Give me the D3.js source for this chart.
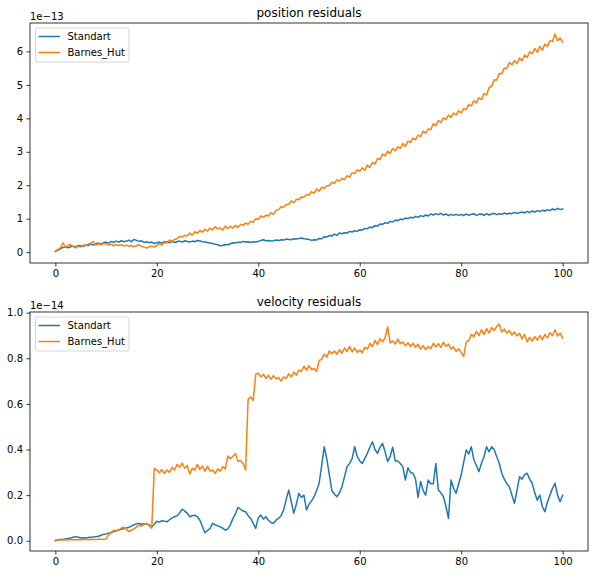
<!DOCTYPE html>
<html>
<head>
<meta charset="utf-8">
<script src="https://cdn.jsdelivr.net/npm/d3@7"></script>
<style>
  html, body { margin: 0; padding: 0; background: #ffffff; }
  svg { display: block; font-family: "DejaVu Sans", sans-serif; }
</style>
</head>
<body>
<div id="chart"></div>
<script>
// ---- data (time step 0.5, t = 0 .. 100) ----
const seriesNames = ["Standart", "Barnes_Hut"];
const xTicks = [0, 20, 40, 60, 80, 100];
const posTicks = [0, 1, 2, 3, 4, 5, 6];
const velTicks = [0.0, 0.2, 0.4, 0.6, 0.8, 1.0];
const titles = ["position residuals", "velocity residuals"];
const offsetLabels = ["1e\u221213", "1e\u221214"];

// position residuals (units of 1e-13)
const posStandart = [
  0.02,0.06,0.10,0.14,0.15,0.13,0.16,0.18,0.15,0.20,0.19,0.17,0.22,0.20,0.24,0.21,0.25,0.27,0.24,0.28,
  0.30,0.27,0.32,0.29,0.33,0.30,0.34,0.31,0.33,0.36,0.31,0.38,0.35,0.32,0.34,0.29,0.31,0.28,0.30,0.26,
  0.28,0.30,0.27,0.31,0.30,0.28,0.32,0.29,0.31,0.33,0.30,0.34,0.32,0.30,0.33,0.31,0.35,0.33,0.31,0.30,
  0.29,0.27,0.26,0.24,0.22,0.19,0.20,0.23,0.22,0.25,0.28,0.27,0.30,0.29,0.32,0.30,0.31,0.29,0.31,0.30,
  0.32,0.35,0.37,0.34,0.35,0.33,0.34,0.36,0.35,0.37,0.36,0.39,0.38,0.37,0.40,0.39,0.41,0.42,0.40,0.39,
  0.38,0.35,0.37,0.36,0.41,0.40,0.46,0.45,0.50,0.48,0.54,0.50,0.57,0.55,0.58,0.57,0.62,0.60,0.64,0.62,
  0.67,0.66,0.71,0.70,0.75,0.73,0.79,0.78,0.84,0.83,0.88,0.86,0.92,0.90,0.96,0.94,0.99,0.97,1.02,1.00,
  1.04,1.02,1.07,1.04,1.09,1.06,1.11,1.08,1.14,1.11,1.15,1.12,1.16,1.11,1.14,1.09,1.13,1.10,1.13,1.10,
  1.13,1.09,1.14,1.10,1.13,1.15,1.10,1.13,1.14,1.10,1.15,1.11,1.14,1.16,1.12,1.15,1.13,1.17,1.14,1.16,
  1.15,1.19,1.16,1.18,1.20,1.17,1.22,1.18,1.23,1.20,1.24,1.21,1.25,1.23,1.27,1.24,1.29,1.26,1.31,1.27,
  1.29
];
const posBarnesHut = [
  0.03,0.08,0.12,0.28,0.14,0.20,0.23,0.16,0.13,0.18,0.16,0.21,0.19,0.24,0.27,0.32,0.21,0.25,0.22,0.26,
  0.25,0.21,0.24,0.19,0.23,0.20,0.22,0.18,0.21,0.17,0.20,0.16,0.19,0.22,0.17,0.15,0.12,0.16,0.18,0.15,
  0.20,0.26,0.21,0.29,0.28,0.36,0.33,0.38,0.40,0.47,0.45,0.50,0.49,0.57,0.51,0.61,0.56,0.65,0.60,0.68,
  0.63,0.72,0.66,0.76,0.70,0.72,0.66,0.78,0.70,0.77,0.72,0.80,0.74,0.83,0.80,0.87,0.83,0.92,0.89,1.00,
  0.98,1.08,1.04,1.10,1.08,1.18,1.13,1.25,1.27,1.36,1.35,1.42,1.43,1.53,1.48,1.58,1.57,1.65,1.64,1.72,
  1.71,1.81,1.76,1.89,1.82,1.94,1.91,1.98,1.99,2.09,2.06,2.16,2.13,2.20,2.17,2.29,2.24,2.37,2.35,2.46,
  2.42,2.52,2.45,2.60,2.53,2.68,2.63,2.80,2.77,2.93,2.88,3.02,2.95,3.10,3.03,3.15,3.10,3.25,3.16,3.32,
  3.28,3.41,3.36,3.50,3.45,3.62,3.56,3.68,3.66,3.84,3.78,3.93,3.88,4.01,3.96,4.10,4.03,4.16,4.10,4.22,
  4.16,4.29,4.26,4.41,4.37,4.53,4.46,4.62,4.56,4.74,4.70,4.92,4.96,5.15,5.14,5.34,5.33,5.50,5.50,5.67,
  5.60,5.73,5.64,5.80,5.72,5.89,5.82,5.99,5.93,6.09,5.98,6.15,6.04,6.22,6.15,6.32,6.30,6.52,6.32,6.40,
  6.28
];

// velocity residuals (units of 1e-14)
const velStandart = [
  0.000,0.003,0.005,0.006,0.008,0.010,0.012,0.015,0.018,0.016,0.012,0.013,0.012,0.014,0.015,0.016,0.018,0.020,0.024,0.028,
  0.030,0.033,0.035,0.040,0.044,0.047,0.050,0.054,0.056,0.059,0.064,0.070,0.074,0.076,0.072,0.075,0.074,0.069,0.060,0.072,
  0.085,0.082,0.088,0.086,0.083,0.092,0.100,0.105,0.110,0.122,0.139,0.130,0.120,0.105,0.110,0.112,0.105,0.090,0.061,0.035,
  0.045,0.055,0.076,0.070,0.065,0.061,0.055,0.046,0.052,0.070,0.098,0.118,0.146,0.138,0.130,0.127,0.110,0.098,0.076,0.054,
  0.100,0.113,0.095,0.105,0.090,0.080,0.076,0.090,0.098,0.110,0.135,0.180,0.222,0.171,0.120,0.160,0.208,0.190,0.200,0.135,
  0.160,0.175,0.193,0.220,0.252,0.330,0.412,0.360,0.290,0.220,0.205,0.193,0.210,0.237,0.280,0.325,0.339,0.360,0.412,0.370,
  0.350,0.339,0.360,0.383,0.410,0.434,0.400,0.383,0.410,0.427,0.390,0.347,0.370,0.410,0.350,0.350,0.339,0.325,0.266,0.320,
  0.300,0.296,0.270,0.190,0.260,0.220,0.200,0.266,0.250,0.250,0.339,0.222,0.210,0.193,0.150,0.098,0.266,0.230,0.208,0.250,
  0.288,0.345,0.398,0.380,0.412,0.354,0.330,0.303,0.340,0.368,0.412,0.390,0.412,0.400,0.368,0.340,0.296,0.270,0.250,0.237,
  0.200,0.164,0.220,0.281,0.270,0.290,0.296,0.270,0.252,0.210,0.178,0.200,0.150,0.127,0.170,0.200,0.230,0.252,0.200,0.171,
  0.200
];
const velBarnesHut = [
  0.002,0.003,0.003,0.004,0.003,0.004,0.005,0.004,0.004,0.005,0.004,0.005,0.005,0.004,0.006,0.005,0.005,0.006,0.006,0.007,
  0.008,0.026,0.036,0.046,0.044,0.048,0.055,0.060,0.050,0.040,0.046,0.052,0.061,0.068,0.064,0.072,0.076,0.066,0.055,0.318,
  0.310,0.298,0.312,0.295,0.310,0.300,0.322,0.310,0.335,0.322,0.340,0.318,0.330,0.292,0.318,0.310,0.335,0.312,0.328,0.305,
  0.326,0.305,0.310,0.295,0.315,0.305,0.325,0.315,0.372,0.360,0.370,0.382,0.348,0.352,0.340,0.310,0.620,0.630,0.615,0.730,
  0.735,0.718,0.730,0.712,0.726,0.708,0.724,0.710,0.716,0.700,0.718,0.712,0.732,0.718,0.740,0.726,0.748,0.742,0.765,0.748,
  0.768,0.750,0.755,0.742,0.790,0.795,0.818,0.805,0.832,0.820,0.832,0.818,0.838,0.822,0.845,0.830,0.852,0.828,0.845,0.826,
  0.836,0.825,0.848,0.840,0.866,0.852,0.878,0.860,0.886,0.872,0.890,0.938,0.868,0.876,0.862,0.884,0.864,0.872,0.855,0.868,
  0.852,0.866,0.848,0.862,0.840,0.856,0.838,0.852,0.842,0.866,0.850,0.864,0.848,0.870,0.852,0.862,0.840,0.850,0.830,0.842,
  0.826,0.808,0.872,0.878,0.905,0.895,0.918,0.900,0.925,0.905,0.930,0.910,0.935,0.922,0.940,0.950,0.915,0.928,0.910,0.922,
  0.902,0.915,0.898,0.910,0.885,0.905,0.872,0.892,0.875,0.895,0.880,0.900,0.882,0.904,0.890,0.912,0.900,0.925,0.898,0.910,
  0.888
];
const timeStep = 0.5;
const colors = ["#1f77b4", "#ff7f0e"];

// ---- drawing ----
const W = 595, H = 575;
const svg = d3.select("#chart").append("svg").attr("width", W).attr("height", H);

const panels = [
  { top: 23, bottom: 263, yDomain: [-0.325, 6.85], ticks: posTicks, fmt: d => String(d),
    series: [posStandart, posBarnesHut], title: titles[0], offset: offsetLabels[0] },
  { top: 312, bottom: 551, yDomain: [-0.045, 1.003], ticks: velTicks, fmt: d3.format(".1f"),
    series: [velStandart, velBarnesHut], title: titles[1], offset: offsetLabels[1] }
];
const left = 30, right = 588;
const x = d3.scaleLinear().domain([-5, 105]).range([left, right]);

panels.forEach(p => {
  const y = d3.scaleLinear().domain(p.yDomain).range([p.bottom, p.top]);
  const g = svg.append("g");

  // lines
  const line = d3.line().x((d, i) => x(i * timeStep)).y(d => y(d));
  p.series.forEach((s, k) => {
    g.append("path").datum(s)
      .attr("d", line)
      .attr("fill", "none")
      .attr("stroke", colors[k])
      .attr("stroke-width", 1.5)
      .attr("stroke-linejoin", "round")
      .attr("stroke-linecap", "square");
  });

  // axes
  const xa = g.append("g").attr("transform", `translate(0,${p.bottom})`)
    .call(d3.axisBottom(x).tickValues(xTicks).tickSize(3.5).tickPadding(3.5).tickFormat(d => String(d)));
  const ya = g.append("g").attr("transform", `translate(${left},0)`)
    .call(d3.axisLeft(y).tickValues(p.ticks).tickSize(3.5).tickPadding(3.5).tickFormat(p.fmt));
  [xa, ya].forEach(a => {
    a.select(".domain").remove();
    a.selectAll(".tick line").attr("stroke", "#000").attr("stroke-width", 0.8);
    a.selectAll(".tick text").attr("fill", "#000").style("font-size", "10px")
      .style("font-family", "'DejaVu Sans', sans-serif");
  });

  // spines
  g.append("rect").attr("x", left).attr("y", p.top)
    .attr("width", right - left).attr("height", p.bottom - p.top)
    .attr("fill", "none").attr("stroke", "#000").attr("stroke-width", 0.8);

  // title & offset text
  g.append("text").attr("x", (left + right) / 2).attr("y", p.top - 6)
    .attr("text-anchor", "middle").style("font-size", "12px").attr("fill", "#000").text(p.title);
  g.append("text").attr("x", left).attr("y", p.top - 3.5)
    .attr("text-anchor", "start").style("font-size", "10px").attr("fill", "#000").text(p.offset);

  // legend
  const lg = g.append("g").attr("transform", `translate(${left + 5.5},${p.top + 5})`);
  lg.append("rect").attr("x", 0).attr("y", 0).attr("width", 93.5).attr("height", 34)
    .attr("rx", 2).attr("fill", "#fff").attr("fill-opacity", 0.8)
    .attr("stroke", "#cccccc").attr("stroke-width", 0.8);
  seriesNames.forEach((name, k) => {
    const yy = 8.5 + k * 16;
    lg.append("line").attr("x1", 3).attr("x2", 24.5).attr("y1", yy).attr("y2", yy)
      .attr("stroke", colors[k]).attr("stroke-width", 1.5);
    lg.append("text").attr("x", 32).attr("y", yy + 3.6)
      .style("font-size", "10px").attr("fill", "#000").text(name);
  });
});
</script>
</body>
</html>
